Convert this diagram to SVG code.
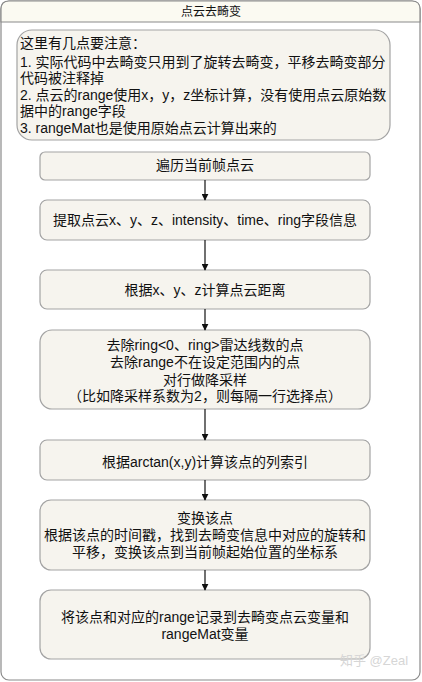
<svg xmlns="http://www.w3.org/2000/svg" width="422" height="682" viewBox="0 0 422 682">
<defs>
<style>
text{font-family:"Liberation Sans","Noto Sans CJK SC",sans-serif;font-size:14px;fill:#111;}
.c{text-anchor:middle;}
.box{fill:#f6f4ee;stroke:#a3a3a3;stroke-width:1.2;}
.edge{stroke:#111;stroke-width:1.2;fill:none;marker-end:url(#arr);}
</style>
<marker id="arr" viewBox="0 0 10 10" refX="9" refY="5" markerWidth="7" markerHeight="7" markerUnits="userSpaceOnUse" orient="auto">
<path d="M0,0 L10,5 L0,10 z" fill="#111"/>
</marker>
</defs>
<rect width="422" height="682" fill="#ffffff"/>
<g id="container">
<rect x="1" y="1" width="419" height="679" rx="8" fill="#ffffff" stroke="#8a8a8a" stroke-width="1.2"/>
<path d="M1,22 V9 Q1,1 9,1 H412 Q420,1 420,9 V22 Z" fill="#fbfaf2" stroke="#8a8a8a" stroke-width="1.2"/>
<text class="c" x="211" y="16" style="font-size:12px">点云去畸变</text>
</g>
<g id="note">
<rect x="17" y="30" width="373" height="110" rx="15" class="box"/>
<text x="20" y="48">这里有几点要注意：</text>
<text x="20" y="67">1. 实际代码中去畸变只用到了旋转去畸变，平移去畸变部分</text>
<text x="20" y="83">代码被注释掉</text>
<text x="20" y="100">2. 点云的range使用x，y，z坐标计算，没有使用点云原始数</text>
<text x="20" y="116">据中的range字段</text>
<text x="20" y="133">3. rangeMat也是使用原始点云计算出来的</text>
</g>
<g id="n1">
<rect x="40" y="152" width="330" height="28" rx="5" class="box"/>
<text class="c" x="205" y="170">遍历当前帧点云</text>
</g>
<g id="n2">
<rect x="40" y="200" width="330" height="40" rx="7" class="box"/>
<text class="c" x="205" y="225">提取点云x、y、z、intensity、time、ring字段信息</text>
</g>
<g id="n3">
<rect x="40" y="270" width="330" height="39" rx="7" class="box"/>
<text class="c" x="205" y="295">根据x、y、z计算点云距离</text>
</g>
<g id="n4">
<rect x="40" y="330" width="330" height="79" rx="12" class="box"/>
<text class="c" x="205" y="350">去除ring&lt;0、ring&gt;雷达线数的点</text>
<text class="c" x="205" y="367">去除range不在设定范围内的点</text>
<text class="c" x="205" y="385">对行做降采样</text>
<text class="c" x="205" y="401">（比如降采样系数为2，则每隔一行选择点）</text>
</g>
<g id="n5">
<rect x="40" y="440" width="330" height="40" rx="7" class="box"/>
<text class="c" x="205" y="467">根据arctan(x,y)计算该点的列索引</text>
</g>
<g id="n6">
<rect x="40" y="500" width="330" height="70" rx="11" class="box"/>
<text class="c" x="205" y="523">变换该点</text>
<text class="c" x="205" y="540">根据该点的时间戳，找到去畸变信息中对应的旋转和</text>
<text class="c" x="205" y="557">平移，变换该点到当前帧起始位置的坐标系</text>
</g>
<g id="n7">
<rect x="40" y="590" width="330" height="69" rx="11" class="box"/>
<text class="c" x="205" y="622">将该点和对应的range记录到去畸变点云变量和</text>
<text class="c" x="205" y="639">rangeMat变量</text>
</g>
<g id="connectors">
<line class="edge" x1="205" y1="180" x2="205" y2="200"/>
<line class="edge" x1="205" y1="240" x2="205" y2="270"/>
<line class="edge" x1="205" y1="309" x2="205" y2="330"/>
<line class="edge" x1="205" y1="409" x2="205" y2="440"/>
<line class="edge" x1="205" y1="480" x2="205" y2="500"/>
<line class="edge" x1="205" y1="570" x2="205" y2="590"/>
</g>
<text x="340" y="665" style="font-size:13px;fill:#d6d6d6">知乎 @Zeal</text>
</svg>
